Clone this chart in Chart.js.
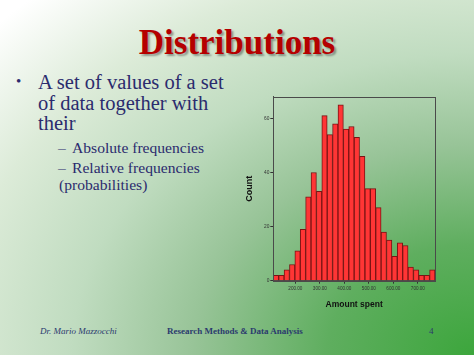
<!DOCTYPE html>
<html>
<head>
<meta charset="utf-8">
<script src="https://cdn.jsdelivr.net/npm/chart.js@4/dist/chart.umd.min.js"></script>
<style>
html,body{margin:0;padding:0;}
body{width:474px;height:355px;overflow:hidden;position:relative;
background:radial-gradient(farthest-corner at 100% 100%, #3ca63c 0%, #5fae5f 22%, #98c498 42%, #c0dcc0 60%, #dcebd8 78%, #ffffff 97%);
font-family:"Liberation Serif","Times New Roman",serif;}
.t{position:absolute;white-space:nowrap;line-height:1;}
#title{left:0;width:474px;text-align:center;top:25px;font-size:35px;font-weight:bold;color:#b50000;text-shadow:2px 2px 2px rgba(0,0,0,0.35);}
.m{font-size:20.5px;color:#2b2b6e;}
.s{font-size:15.6px;color:#2b2b6e;}
.f{font-size:9px;color:#2b3a6e;}
#cw{position:absolute;left:238px;top:90px;width:205px;height:225px;}
</style>
</head>
<body>
<div id="title" class="t">Distributions</div>
<div class="t" style="left:16px;top:74px;font-size:15px;color:#2b2b6e;">•</div>
<div class="t m" style="left:38px;top:72px;">A set of values of a set</div>
<div class="t m" style="left:38px;top:93px;">of data together with</div>
<div class="t m" style="left:38px;top:113px;">their</div>
<div class="t s" style="left:58px;top:140px;">–</div>
<div class="t s" style="left:72px;top:140px;">Absolute frequencies</div>
<div class="t s" style="left:58px;top:160px;">–</div>
<div class="t s" style="left:72px;top:160px;">Relative frequencies</div>
<div class="t s" style="left:59px;top:177px;">(probabilities)</div>
<div class="t f" style="left:40px;top:327px;font-style:italic;">Dr. Mario Mazzocchi</div>
<div class="t f" style="left:167px;top:327px;font-weight:bold;">Research Methods &amp; Data Analysis</div>
<div class="t f" style="left:429px;top:327px;">4</div>
<div id="cw"><canvas id="c" width="205" height="225"></canvas></div>
<script>
// Histogram bins (bin centers, width 22) and counts
const binCenters = [121,143,165,187,209,231,253,275,297,319,341,363,385,407,429,451,473,495,517,539,561,583,605,627,649,671,693,715,737,759];
const counts = [2,2,4,6,11,19,31,40,33,61,54,58,65,56,57,53,46,34,34,27,18,15,9,14,13,5,4,2,2,4];
const xTicks = [200,300,400,500,600,700];
const yTicks = [0,20,40,60];
const xRange = [110,770];
const yRange = [0,68];

const frame = {
  id:'frame',
  afterDraw(chart){
    const {ctx, chartArea:a} = chart;
    ctx.save();
    ctx.strokeStyle = '#4a4a4a';
    ctx.lineWidth = 1;
    ctx.strokeRect(Math.round(a.left)+0.5, Math.round(a.top)+0.5, Math.round(a.right-a.left), Math.round(a.bottom-a.top));
    ctx.restore();
  }
};

new Chart(document.getElementById('c'), {
  type:'bar',
  data:{
    datasets:[{
      data: binCenters.map((x,i)=>({x:x,y:counts[i]})),
      backgroundColor:'#ff3535',
      borderColor:'#7a1515',
      borderWidth:1,
      barPercentage:1,
      categoryPercentage:1
    }]
  },
  options:{
    responsive:false,
    animation:false,
    devicePixelRatio:1,
    layout:{padding:{top:6.7,right:8,left:0,bottom:0}},
    plugins:{legend:{display:false},tooltip:{enabled:false}},
    scales:{
      x:{
        type:'linear',
        offset:false,
        min:xRange[0], max:xRange[1],
        afterBuildTicks(s){ s.ticks = xTicks.map(v=>({value:v})); },
        afterFit(s){ s.height = 34.3; },
        grid:{display:true,drawOnChartArea:false,drawTicks:true,tickLength:3,color:'#333',offset:false},
        border:{display:true,color:'#4a4a4a'},
        ticks:{padding:2,maxRotation:0,autoSkip:false,color:'#333',font:{family:'Liberation Sans',size:4.6},
          callback:v=>v.toFixed(2)},
        title:{display:true,text:'Amount spent',color:'#111',font:{family:'Liberation Sans',size:8.5,weight:'bold'},padding:{top:0,bottom:5}}
      },
      y:{
        min:yRange[0], max:yRange[1],
        afterBuildTicks(s){ s.ticks = yTicks.map(v=>({value:v})); },
        afterFit(s){ s.width = 35.3; },
        grid:{display:true,drawOnChartArea:false,drawTicks:true,tickLength:3,color:'#333'},
        border:{display:true,color:'#4a4a4a'},
        ticks:{padding:1,color:'#333',font:{family:'Liberation Sans',size:4.8}},
        title:{display:true,text:'Count',color:'#111',font:{family:'Liberation Sans',size:9,weight:'bold'},padding:{top:6.6,bottom:0}}
      }
    }
  },
  plugins:[frame]
});
</script>
</body>
</html>
